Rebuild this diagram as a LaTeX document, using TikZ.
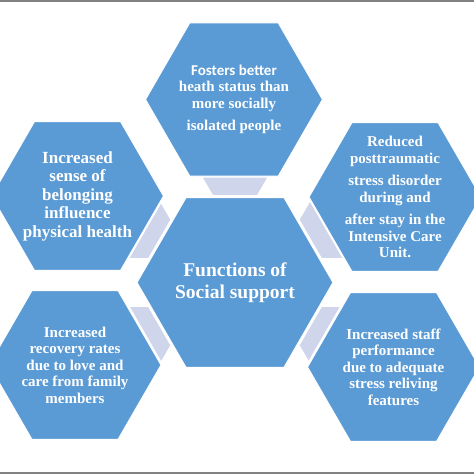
\documentclass[tikz,border=0pt]{standalone}
\usepackage{fontspec}
\setmainfont{Liberation Serif}
\newfontfamily\calibfont{Carlito}
\usetikzlibrary{shapes.geometric}
\definecolor{hexblue}{RGB}{91,155,213}
\definecolor{linkgray}{RGB}{207,213,234}
\definecolor{framegray}{RGB}{130,130,130}
\tikzset{
	hexa/.style={regular polygon, regular polygon sides=6, fill=hexblue, draw=white, line width=1pt, inner sep=0pt, outer sep=0pt},
	hextext/.style={text=white, align=center, font=\bfseries\fontsize{15}{16.5}\selectfont},
}
\begin{document}
\begin{tikzpicture}[x=1pt,y=1pt]
	\useasboundingbox (0,0) rectangle (474,474);
	\fill[framegray] (0,472.3) rectangle (474,474);
	\fill[framegray] (0,0) rectangle (474,2.2);
	% hexagons
	\node[hexa, minimum size=196] (ctr) at (235,191.5) {};
	\node[hexa, minimum size=177] (top) at (234,374.5) {};
	\node[hexa, minimum size=172] (ul) at (77.5,278) {};
	\node[hexa, minimum size=172] (ur) at (395,277) {};
	\node[hexa, minimum size=172] (ll) at (75,109) {};
	\node[hexa, minimum size=172] (lr) at (393.5,107) {};
	% links from the middle to the outer ones
	\foreach \a/\far in {90/104.9, 150/103.4, 30/105.1, 210/103.1, 330/102.8}
		\fill[linkgray, shift={(ctr.center)}, rotate=\a] (87.5,-22) -- (87.5,22) -- (\far,{22+(\far-87.5)*0.577}) -- (\far,{-22-(\far-87.5)*0.577}) -- cycle;
	% texts
	\node[hextext, font=\bfseries\fontsize{19.5}{21.5}\selectfont] (ctr-t) at (ctr) {Functions of\\Social support};
	\node[hextext] (top-t) at (top) {\calibfont Fosters better\\heath status than\\more socially\\[6pt]isolated people};
	\node[hextext, font=\bfseries\fontsize{17}{18.5}\selectfont] (ul-t) at (ul) {Increased\\sense of\\belonging\\influence\\physical health};
	\node[hextext] (ur-t) at (ur) {Reduced\\posttraumatic\\[6pt]stress disorder\\during and\\[6pt]after stay in the\\Intensive Care\\Unit.};
	\node[hextext] (ll-t) at (ll) {Increased\\recovery rates\\due to love and\\care from family\\members};
	\node[hextext] (lr-t) at (lr) {Increased staff\\performance\\due to adequate\\stress reliving\\features};
\end{tikzpicture}
\end{document}
